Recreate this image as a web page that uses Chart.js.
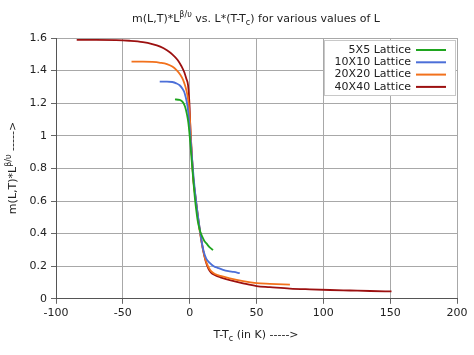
<!DOCTYPE html>
<html><head><meta charset="utf-8">
<script src="https://cdn.jsdelivr.net/npm/chart.js@4/dist/chart.umd.min.js"></script>
<style>html,body{margin:0;padding:0;background:#fff}#wrap{width:474px;height:355px}</style>
</head><body><div id="wrap"><canvas id="c" width="474" height="355"></canvas></div>
<script>
const seriesLabels = ["5X5 Lattice", "10X10 Lattice", "20X20 Lattice", "40X40 Lattice"];
const seriesColors = ["#1fa51f", "#4c6fd8", "#f2711c", "#9c1010"];

const x5 = [-11, -7.5, -5, -3.5, -2, -1, 0, 1, 2, 3, 4, 5, 6, 7, 8, 9.5, 11, 13, 15, 17.5];
const y5 = [1.223, 1.22, 1.205, 1.18, 1.13, 1.08, 1.0, 0.9, 0.8, 0.7, 0.61, 0.54, 0.48, 0.44, 0.41, 0.38, 0.355, 0.335, 0.315, 0.3];

const x10 = [-22.4, -17, -13, -10, -7.5, -5.5, -3.7, -2, -1, 0, 1, 2, 3, 4.5, 6, 7.5, 9, 10.5, 12.5, 15, 18, 21, 25, 29, 33, 37.5];
const y10 = [1.332, 1.332, 1.33, 1.322, 1.31, 1.29, 1.26, 1.2, 1.14, 1.05, 0.95, 0.84, 0.74, 0.62, 0.52, 0.43, 0.35, 0.29, 0.245, 0.22, 0.2, 0.19, 0.178, 0.17, 0.165, 0.157];

const x20 = [-43.5, -35, -28, -22, -17, -13, -10, -7, -5, -3.5, -2.5, -1.5, -0.5, 0.5, 1.5, 2.8, 4, 5.2, 6.6, 8, 10, 12, 14, 16, 19, 23, 30, 40, 50, 60, 75];
const y20 = [1.455, 1.455, 1.453, 1.448, 1.44, 1.425, 1.405, 1.375, 1.345, 1.31, 1.28, 1.24, 1.17, 1.06, 0.9, 0.73, 0.64, 0.56, 0.47, 0.39, 0.3, 0.235, 0.195, 0.17, 0.152, 0.14, 0.125, 0.108, 0.096, 0.092, 0.087];

const x40 = [-84.5, -70, -55, -45, -35, -28, -22, -17, -13, -9, -6, -4, -2.5, -1.2, 0, 0.5, 1.5, 2.8, 4, 5.2, 6.6, 8, 10, 12, 14, 16, 19, 23, 30, 40, 50, 60, 75, 90, 105, 120, 135, 151];
const y40 = [1.588, 1.588, 1.587, 1.583, 1.575, 1.563, 1.547, 1.525, 1.5, 1.465, 1.425, 1.39, 1.35, 1.31, 1.17, 1.05, 0.9, 0.73, 0.65, 0.57, 0.48, 0.4, 0.3, 0.23, 0.185, 0.16, 0.145, 0.132, 0.115, 0.095, 0.078, 0.072, 0.063, 0.058, 0.054, 0.051, 0.048, 0.045];

const xTicks = [-100, -50, 0, 50, 100, 150, 200];
const yTicks = [0, 0.2, 0.4, 0.6, 0.8, 1, 1.2, 1.4, 1.6];

const xsAll = [x5, x10, x20, x40];
const ysAll = [y5, y10, y20, y40];

const FONT = "'DejaVu Sans', sans-serif";

const datasets = seriesLabels.map((lab, i) => ({
  label: lab,
  data: xsAll[i].map((x, j) => ({x: x, y: ysAll[i][j]})),
  borderColor: seriesColors[i],
  backgroundColor: seriesColors[i],
  borderWidth: 1.8,
  pointRadius: 0,
  showLine: true,
  cubicInterpolationMode: 'monotone',
  fill: false
}));

function drawRich(ctx, parts, x, y, align, size) {
  const small = Math.round(size * 0.7);
  let total = 0;
  const widths = parts.map(p => {
    ctx.font = (p[1] === 'n' ? size : small) + "px " + FONT;
    const w = ctx.measureText(p[0]).width;
    total += w; return w;
  });
  let cx = align === 'center' ? x - total / 2 : x;
  ctx.textAlign = 'left';
  ctx.textBaseline = 'alphabetic';
  parts.forEach((p, i) => {
    ctx.font = (p[1] === 'n' ? size : small) + "px " + FONT;
    let dy = 0;
    if (p[1] === 'sup') dy = -size * 0.45;
    if (p[1] === 'sub') dy = size * 0.3;
    ctx.fillText(p[0], cx, y + dy);
    cx += widths[i];
  });
}

const textPlugin = {
  id: 'texts',
  afterDraw(chart) {
    const ctx = chart.ctx;
    ctx.save();
    ctx.fillStyle = '#222';
    drawRich(ctx, [["m(L,T)*L", 'n'], ["β/υ", 'sup'], [" vs. L*(T-T", 'n'], ["c", 'sub'], [") for various values of L", 'n']], 256, 22, 'center', 11);
    drawRich(ctx, [["T-T", 'n'], ["c", 'sub'], [" (in K) ----->", 'n']], 256, 338, 'center', 11);
    ctx.translate(16, 168);
    ctx.rotate(-Math.PI / 2);
    drawRich(ctx, [["m(L,T)*L", 'n'], ["β/υ", 'sup'], [" ----->", 'n']], 0, 0, 'center', 11);
    ctx.restore();

    const ca = chart.chartArea;
    const bx = ca.right - 133, by = ca.top + 2, bw = 132, bh = 56;
    ctx.save();
    ctx.fillStyle = '#fff';
    ctx.fillRect(bx, by, bw, bh);
    ctx.strokeStyle = '#c8c8c8';
    ctx.lineWidth = 1;
    ctx.strokeRect(bx + 0.5, by + 0.5, bw - 1, bh - 1);
    ctx.font = "11px " + FONT;
    ctx.textAlign = 'right';
    ctx.textBaseline = 'middle';
    chart.data.datasets.forEach((ds, i) => {
      const yy = by + 10 + i * 12.3;
      ctx.fillStyle = '#222';
      ctx.fillText(ds.label, bx + 87, yy);
      ctx.strokeStyle = ds.borderColor;
      ctx.lineWidth = 2;
      ctx.beginPath();
      ctx.moveTo(bx + 92, yy);
      ctx.lineTo(bx + 122, yy);
      ctx.stroke();
    });
    ctx.restore();
  }
};

new Chart(document.getElementById('c'), {
  type: 'scatter',
  data: { datasets: datasets },
  options: {
    responsive: false,
    animation: false,
    devicePixelRatio: 1,
    layout: { padding: { top: 38, right: 17, bottom: 32, left: 20 } },
    plugins: { legend: { display: false }, title: { display: false }, tooltip: { enabled: false } },
    scales: {
      x: {
        type: 'linear', min: -100, max: 200,
        afterBuildTicks(s) { s.ticks = xTicks.map(v => ({value: v})); },
        ticks: { font: { family: FONT, size: 11 }, color: '#222', padding: 3, maxRotation: 0 },
        grid: { color: '#a8a8a8', lineWidth: 1, tickLength: 5, tickColor: '#666' },
        border: { color: '#555', width: 1 }
      },
      y: {
        type: 'linear', min: 0, max: 1.6,
        afterBuildTicks(s) { s.ticks = yTicks.map(v => ({value: v})); },
        afterFit(s) { s.width = 36; },
        ticks: { font: { family: FONT, size: 11 }, color: '#222', padding: 4,
          callback: v => String(Math.round(v * 10) / 10) },
        grid: { color: '#a8a8a8', lineWidth: 1, tickLength: 5, tickColor: '#666' },
        border: { color: '#555', width: 1 }
      }
    }
  },
  plugins: [textPlugin]
});
</script>
</body></html>
